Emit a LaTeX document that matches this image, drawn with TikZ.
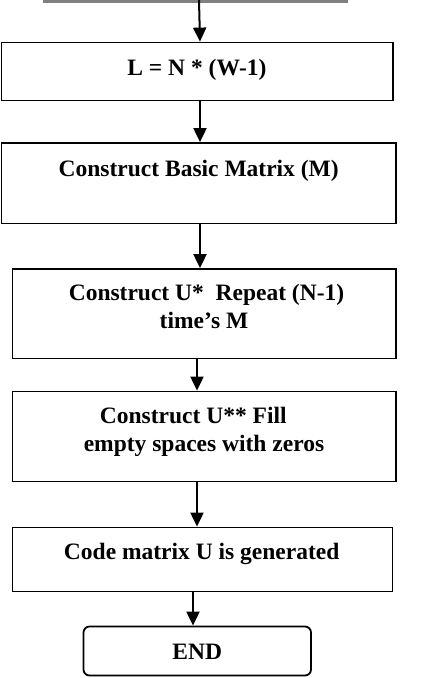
\documentclass[tikz,border=0pt]{standalone}
\usepackage{fontspec}
\setmainfont{Liberation Serif}
\usetikzlibrary{arrows.meta}
\begin{document}
\begin{tikzpicture}[x=1pt,y=-1pt,
  box/.style={draw=black,line width=1.8pt,rectangle,inner sep=0pt,fill=white},
  txt/.style={anchor=base,inner sep=0pt,font=\fontsize{23.5}{28}\selectfont\bfseries},
  arr/.style={line width=2pt,-{Triangle[width=13pt,length=14pt]}}]
\useasboundingbox (0,0) rectangle (427,678);
% cut-off bar at top
\fill[fill={rgb,255:red,128;green,128;blue,128}] (43,0) rectangle (348,2.5);
\coordinate (top) at (199,0);
\coordinate (x200) at (200,0);
\coordinate (x197) at (197,0);
\coordinate (x193) at (193,0);
% boxes
\node[box,minimum width=391.5pt,minimum height=58pt] (b1) at (197.25,71.5) {};
\node[box,minimum width=394.5pt,minimum height=80.5pt] (b2) at (198.75,183.25) {};
\node[box,minimum width=383.5pt,minimum height=89.5pt] (b3) at (204.25,313.75) {};
\node[box,minimum width=383.5pt,minimum height=90pt] (b4) at (204.25,436.5) {};
\node[box,minimum width=380pt,minimum height=64pt] (b5) at (202.5,559.5) {};
\node[box,rounded corners=6pt,minimum width=227.5pt,minimum height=49pt] (e) at (197.25,651) {};
% texts
\node[txt] (t1) at (197,75) {L = N * (W-1)};
\node[txt] (t2) at (198.7,176.7) {Construct Basic Matrix (M)};
\node[txt] (t3a) at (206.5,300.7) {Construct U*\ \ Repeat (N-1)};
\node[txt] (t3b) at (204,328.3) {time’s M};
\node[txt] (t4a) at (193.3,423.3) {Construct U** Fill};
\node[txt] (t4b) at (204,451.7) {empty spaces with zeros};
\node[txt] (t5) at (201.7,559.3) {Code matrix U is generated};
\node[txt] (te) at (197.2,659) {END};
% arrows
\draw[arr] (top) -- (b1.north -| x200);
\draw[arr] (b1.south -| x200) -- (b2.north -| x200);
\draw[arr] (b2.south -| x200) -- (b3.north -| x200);
\draw[arr] (b3.south -| x197) -- (b4.north -| x197);
\draw[arr] (b4.south -| x197) -- (b5.north -| x197);
\draw[arr] (b5.south -| x193) -- (e.north -| x193);
\end{tikzpicture}
\end{document}
